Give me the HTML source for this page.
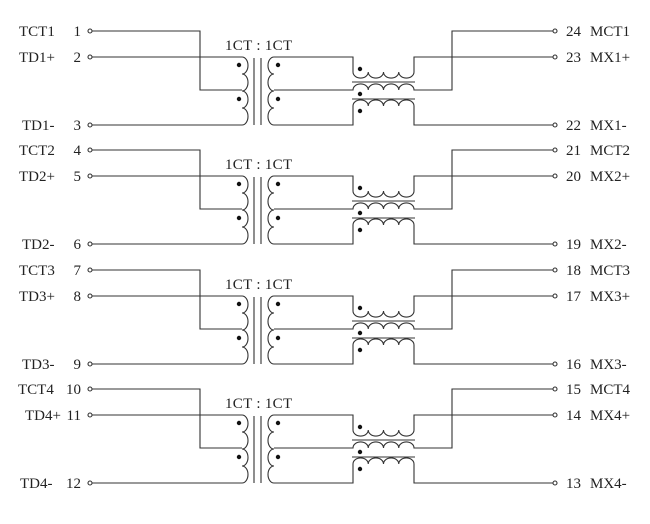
<!DOCTYPE html>
<html><head><meta charset="utf-8"><style>
html,body{margin:0;padding:0;background:#fff;}
svg{display:block;}
text{font-family:"Liberation Serif",serif;font-size:15px;fill:#222;}
.ct{letter-spacing:0.3px;}
</style></head><body>
<svg width="650" height="524" viewBox="0 0 650 524" xmlns="http://www.w3.org/2000/svg">
<defs>
<g id="blk" fill="none" stroke="#333" stroke-width="1.1">
  <circle cx="90" cy="31" r="2"/><circle cx="90" cy="57" r="2"/><circle cx="90" cy="125" r="2"/>
  <circle cx="555" cy="31" r="2"/><circle cx="555" cy="57" r="2"/><circle cx="555" cy="125" r="2"/>
  <path d="M92,31 H200 V90 H242"/>
  <path d="M92,57 H242"/>
  <path d="M92,125 H242"/>
  <path d="M242,57 a6,8.5 0 0 1 0,17 a6,8.5 0 0 1 0,17 a6,8.5 0 0 1 0,17 a6,8.5 0 0 1 0,17"/>
  <path d="M254,58 V125 M261,58 V125"/>
  <path d="M274,57 a6,8.5 0 0 0 0,17 a6,8.5 0 0 0 0,17 a6,8.5 0 0 0 0,17 a6,8.5 0 0 0 0,17"/>
  <path d="M274,57 H353 V72 a7.6,6 0 0 0 15.25,0 a7.6,6 0 0 0 15.25,0 a7.6,6 0 0 0 15.25,0 a7.6,6 0 0 0 15.25,0 V57 H553"/>
  <path d="M274,90 H353 a7.6,6 0 0 1 15.25,0 a7.6,6 0 0 1 15.25,0 a7.6,6 0 0 1 15.25,0 a7.6,6 0 0 1 15.25,0 H452 V31 H553"/>
  <path d="M274,125 H353 V106 a7.6,6 0 0 1 15.25,0 a7.6,6 0 0 1 15.25,0 a7.6,6 0 0 1 15.25,0 a7.6,6 0 0 1 15.25,0 V125 H553"/>
  <path d="M352,82 H415 M352,99 H415"/>
  <g fill="#111" stroke="none">
    <circle cx="239" cy="65" r="2.2"/><circle cx="239" cy="99" r="2.2"/>
    <circle cx="278" cy="65" r="2.2"/><circle cx="278" cy="99" r="2.2"/>
    <circle cx="360" cy="69" r="2.2"/><circle cx="360" cy="94" r="2.2"/><circle cx="360" cy="111" r="2.2"/>
  </g>
</g>
</defs>
<use href="#blk"/>
<use href="#blk" y="119"/>
<use href="#blk" y="239"/>
<use href="#blk" y="358"/>

<g>
<text x="19" y="36">TCT1</text><text x="81" y="36" text-anchor="end">1</text>
<text x="19" y="62">TD1+</text><text x="81" y="62" text-anchor="end">2</text>
<text x="22" y="130">TD1-</text><text x="81" y="130" text-anchor="end">3</text>
<text x="566" y="36">24</text><text x="590" y="36">MCT1</text>
<text x="566" y="62">23</text><text x="590" y="62">MX1+</text>
<text x="566" y="130">22</text><text x="590" y="130">MX1-</text>
<text class="ct" x="225" y="50">1CT : 1CT</text>

<text x="19" y="155">TCT2</text><text x="81" y="155" text-anchor="end">4</text>
<text x="19" y="181">TD2+</text><text x="81" y="181" text-anchor="end">5</text>
<text x="22" y="249">TD2-</text><text x="81" y="249" text-anchor="end">6</text>
<text x="566" y="155">21</text><text x="590" y="155">MCT2</text>
<text x="566" y="181">20</text><text x="590" y="181">MX2+</text>
<text x="566" y="249">19</text><text x="590" y="249">MX2-</text>
<text class="ct" x="225" y="169">1CT : 1CT</text>

<text x="19" y="275">TCT3</text><text x="81" y="275" text-anchor="end">7</text>
<text x="19" y="301">TD3+</text><text x="81" y="301" text-anchor="end">8</text>
<text x="22" y="369">TD3-</text><text x="81" y="369" text-anchor="end">9</text>
<text x="566" y="275">18</text><text x="590" y="275">MCT3</text>
<text x="566" y="301">17</text><text x="590" y="301">MX3+</text>
<text x="566" y="369">16</text><text x="590" y="369">MX3-</text>
<text class="ct" x="225" y="289">1CT : 1CT</text>

<text x="18" y="394">TCT4</text><text x="81" y="394" text-anchor="end">10</text>
<text x="25" y="420">TD4+</text><text x="81" y="420" text-anchor="end">11</text>
<text x="20" y="488">TD4-</text><text x="81" y="488" text-anchor="end">12</text>
<text x="566" y="394">15</text><text x="590" y="394">MCT4</text>
<text x="566" y="420">14</text><text x="590" y="420">MX4+</text>
<text x="566" y="488">13</text><text x="590" y="488">MX4-</text>
<text class="ct" x="225" y="408">1CT : 1CT</text>
</g>
</svg>
</body></html>
